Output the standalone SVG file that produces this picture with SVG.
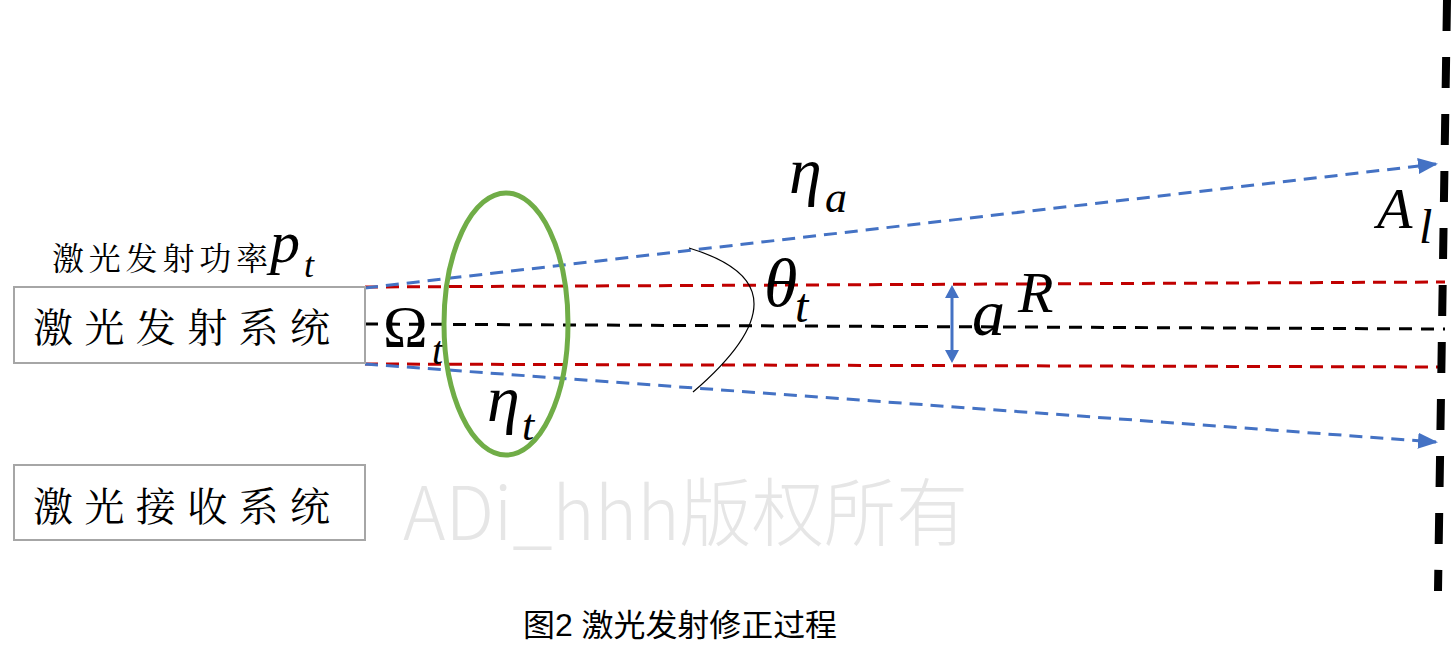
<svg xmlns="http://www.w3.org/2000/svg" width="1453" height="663" viewBox="0 0 1453 663">
<style>
.box{fill:#fff;stroke:#a6a6a6;stroke-width:2}
.cn{font-family:'Noto Serif CJK SC','Noto Sans CJK SC',serif;fill:#000}
.m{font-family:'Liberation Serif','Times New Roman',serif;font-style:italic;fill:#000}
.red{stroke:#C00000;stroke-width:3;stroke-dasharray:13 8;fill:none}
.blk{stroke:#000;stroke-width:3;stroke-dasharray:13 9;fill:none}
.blue{stroke:#4472C4;stroke-width:3;stroke-dasharray:13 8;fill:none}
</style>
<defs>
<marker id="ab2" viewBox="0 0 10 10" refX="9" refY="5" markerWidth="20" markerHeight="20" orient="auto-start-reverse" markerUnits="userSpaceOnUse"><path d="M0,1 L10,5 L0,9 z" fill="#4472C4"/></marker>
</defs>
<rect width="1453" height="663" fill="#fff"/>
<g id="watermark">
<text x="403" y="540" font-family="'Noto Sans CJK SC','Liberation Sans',sans-serif" font-weight="300" font-size="74" fill="#e6e6e6" textLength="565" lengthAdjust="spacingAndGlyphs">ADi_hhh版权所有</text>
</g>
<g id="connectors">
<line class="red" x1="365" y1="287" x2="1445" y2="282"/>
<line class="red" x1="365" y1="364" x2="1445" y2="367"/>
<line class="blk" x1="365" y1="324" x2="1445" y2="329"/>
<line class="blue" x1="365" y1="288" x2="1436" y2="164" marker-end="url(#ab2)"/>
<line class="blue" x1="365" y1="364" x2="1436" y2="442" marker-end="url(#ab2)"/>
<line x1="952" y1="297" x2="952" y2="352" stroke="#4472C4" stroke-width="3"/>
<path d="M952,285 l-7,13 h14 z M952,363 l-7,-13 h14 z" fill="#4472C4"/>
<path d="M689,248 C745,265 800,300 693,392" fill="none" stroke="#000" stroke-width="1.2"/>
<line x1="1447" y1="0" x2="1438" y2="591" stroke="#000" stroke-width="8" stroke-dasharray="31 26"/>
</g>
<g id="tx-system">
<rect class="box" x="14" y="287" width="351" height="76"/>
<text class="cn" x="33" y="342" font-size="40" textLength="297">激光发射系统</text>
</g>
<g id="rx-system">
<rect class="box" x="14" y="465" width="351" height="75"/>
<text class="cn" x="33" y="521" font-size="40" textLength="297">激光接收系统</text>
</g>
<g id="power-label">
<text class="cn" x="52" y="270" font-size="32" textLength="216">激光发射功率</text>
<text class="m" x="270" y="262" font-size="60">p</text>
<text class="m" x="304" y="277" font-size="36">t</text>
</g>
<g id="labels">
<text x="383" y="347" font-family="'Liberation Serif','Times New Roman',serif" font-size="60">Ω</text>
<text class="m" x="432" y="364" font-size="40">t</text>
<text class="m" x="789" y="193" font-size="66">η</text>
<text class="m" x="825" y="212" font-size="44">a</text>
<text class="m" x="764" y="306" font-size="68">θ</text>
<text class="m" x="795" y="322" font-size="48">t</text>
<text class="m" x="972" y="335" font-size="66">a</text>
<text class="m" x="1018" y="312" font-size="58">R</text>
<text class="m" x="1377" y="228" font-size="58">A</text>
<text class="m" x="1419" y="243" font-size="48">l</text>
</g>
<g id="lens">
<ellipse cx="506" cy="324" rx="62" ry="131" fill="none" stroke="#70AD47" stroke-width="5"/>
<text class="m" x="487" y="421" font-size="66">η</text>
<text class="m" x="522" y="440" font-size="44">t</text>
</g>
<g id="caption">
<text x="523" y="636" font-family="'Liberation Sans','Noto Sans CJK SC',sans-serif" font-size="31" textLength="314" lengthAdjust="spacingAndGlyphs">图2 激光发射修正过程</text>
</g>
</svg>
